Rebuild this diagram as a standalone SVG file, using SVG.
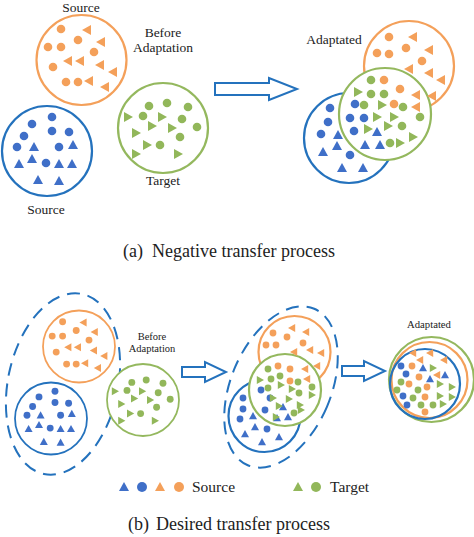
<svg xmlns="http://www.w3.org/2000/svg" xmlns:xlink="http://www.w3.org/1999/xlink" width="474" height="537" viewBox="0 0 474 537">
<style>
.t{font-family:"Liberation Serif","Times New Roman",serif;fill:#222}
.o{fill:#F4A05A}.b{fill:#3F6FC8}.g{fill:#92B75A}
.oc{fill:#fff;stroke:#F4A05A;stroke-width:2.2}
.bc{fill:#fff;stroke:#2472BD;stroke-width:2.2}
.gc{fill:#fff;stroke:#94B85E;stroke-width:2.2}
.nf{fill:none}
.dash{fill:none;stroke:#2472BD;stroke-width:2;stroke-dasharray:13 8}
.arr{fill:#fff;stroke:#2472BD;stroke-width:2;stroke-linejoin:miter}
</style>
<defs>
<circle id="d" r="4.3"/>
<polygon id="tl" points="-5,0 4,-5 4,5"/>
<polygon id="tu" points="0,-5 5,4 -5,4"/>
<polygon id="tr" points="5,0 -4,-5 -4,5"/>
<circle id="ds" r="3.4"/>
<polygon id="tls" points="-4,0 3.2,-4 3.2,4"/>
<polygon id="tus" points="0,-4 4,3.2 -4,3.2"/>
<polygon id="trs" points="4,0 -3.2,-4 -3.2,4"/>
<g id="clO">
<circle class="oc" r="45"/>
<g class="o">
<use href="#d" x="-20.5" y="-31"/><use href="#d" x="-33.5" y="-13"/><use href="#d" x="-20.5" y="-13"/><use href="#d" x="-3.5" y="-20"/><use href="#d" x="12.5" y="-8"/><use href="#d" x="-28.5" y="7"/><use href="#d" x="-15.5" y="22"/><use href="#d" x="-3.5" y="22"/>
<use href="#tl" x="5.5" y="-30"/><use href="#tl" x="19.5" y="-18"/><use href="#tl" x="-13.5" y="1"/><use href="#tl" x="-1.5" y="1"/><use href="#tl" x="18.5" y="5"/><use href="#tl" x="31.5" y="12"/><use href="#tl" x="7.5" y="21"/><use href="#tl" x="23.5" y="27"/>
</g>
</g>
<g id="clB">
<circle class="bc" r="45"/>
<g class="b">
<use href="#d" x="-15" y="-27"/><use href="#d" x="5" y="-34"/><use href="#d" x="-23" y="-15"/><use href="#d" x="5" y="-20"/><use href="#d" x="22" y="-19"/><use href="#d" x="-30" y="-4"/><use href="#d" x="12" y="-4"/><use href="#d" x="-1" y="12"/>
<use href="#tu" x="-13" y="-4"/><use href="#tu" x="26" y="-6"/><use href="#tu" x="-28" y="13"/><use href="#tu" x="-15" y="8"/><use href="#tu" x="12" y="13"/><use href="#tu" x="25" y="13"/><use href="#tu" x="-9" y="29"/><use href="#tu" x="12" y="30"/>
</g>
</g>
<g id="clG">
<circle class="gc" r="45"/>
<g class="g">
<use href="#d" x="-14" y="-22"/><use href="#d" x="4" y="-25"/><use href="#d" x="25" y="-21"/><use href="#d" x="-20" y="-12"/><use href="#d" x="19" y="-9"/><use href="#d" x="34" y="-1"/><use href="#d" x="17" y="9"/><use href="#d" x="-3" y="17"/>
<use href="#tr" x="-35" y="-11"/><use href="#tr" x="-1" y="-11"/><use href="#tr" x="-27" y="5"/><use href="#tr" x="-11" y="-2"/><use href="#tr" x="9" y="0"/><use href="#tr" x="-16" y="17"/><use href="#tr" x="-27" y="26"/><use href="#tr" x="15" y="26"/>
</g>
</g>
</defs>
<rect width="474" height="537" fill="#fff"/>

<!-- Panel (a) left -->
<g id="a-source-orange"><use href="#clO" transform="translate(81.5,60)"/></g>
<g id="a-source-blue"><use href="#clB" transform="translate(47,151)"/></g>
<g id="a-target"><use href="#clG" transform="translate(163,128)"/></g>
<text class="t" x="81" y="12" font-size="13.5" text-anchor="middle">Source</text>
<text class="t" x="163" y="37" font-size="13.5" text-anchor="middle">Before</text>
<text class="t" x="163" y="52" font-size="13.5" text-anchor="middle">Adaptation</text>
<text class="t" x="163" y="185" font-size="13.5" text-anchor="middle">Target</text>
<text class="t" x="46" y="214" font-size="13.5" text-anchor="middle">Source</text>

<!-- Panel (a) right -->
<g id="a-adapted">
<circle class="oc" cx="409" cy="66" r="45"/>
<circle class="bc" cx="349" cy="138" r="45"/>
<circle class="gc" cx="385" cy="114" r="46"/>
<g class="o">
<use href="#d" x="389" y="37"/><use href="#d" x="377" y="53"/><use href="#d" x="389" y="54"/><use href="#d" x="406" y="48"/><use href="#d" x="422" y="61"/><use href="#d" x="384" y="80"/><use href="#d" x="400" y="89"/><use href="#d" x="394" y="104"/>
<use href="#tl" x="413" y="37"/><use href="#tl" x="429" y="50"/><use href="#tl" x="409" y="69"/><use href="#tl" x="429" y="73"/><use href="#tl" x="441" y="80"/><use href="#tl" x="416" y="95"/><use href="#tl" x="432" y="96"/><use href="#tl" x="416" y="107"/>
</g>
<g class="b">
<use href="#d" x="330" y="108"/><use href="#d" x="355" y="104"/><use href="#d" x="350" y="118"/><use href="#d" x="364" y="118"/><use href="#d" x="328" y="122"/><use href="#d" x="321" y="134"/><use href="#d" x="354" y="131"/><use href="#d" x="350" y="155"/>
<use href="#tu" x="338" y="135"/><use href="#tu" x="377" y="132"/><use href="#tu" x="337" y="146"/><use href="#tu" x="365" y="145"/><use href="#tu" x="380" y="145"/><use href="#tu" x="323" y="152"/><use href="#tu" x="342" y="168"/><use href="#tu" x="363" y="168"/>
</g>
<g class="g">
<use href="#d" x="371" y="80"/><use href="#d" x="371" y="94"/><use href="#d" x="384" y="94"/><use href="#d" x="364" y="105"/><use href="#d" x="403" y="107"/><use href="#d" x="420" y="117"/><use href="#d" x="402" y="126"/><use href="#d" x="390" y="143"/>
<use href="#tr" x="358" y="92"/><use href="#tr" x="382" y="105"/><use href="#tr" x="377" y="117"/><use href="#tr" x="394" y="117"/><use href="#tr" x="388" y="126"/><use href="#tr" x="368" y="129"/><use href="#tr" x="413" y="137"/><use href="#tr" x="400" y="143"/>
</g>
</g>
<text class="t" x="334" y="44" font-size="13.5" text-anchor="middle">Adaptated</text>

<!-- Panel (b) left -->
<g id="b-sources">
<ellipse class="dash" cx="63" cy="384" rx="55" ry="92" transform="rotate(12 63 384)"/>
<use href="#clO" transform="translate(79,346.5) scale(0.8)"/>
<use href="#clB" transform="translate(51,418.5) scale(0.8)"/>
</g>
<g id="b-target"><use href="#clG" transform="translate(143,400) scale(0.8)"/></g>
<text class="t" x="152" y="340" font-size="10.5" text-anchor="middle">Before</text>
<text class="t" x="152" y="352" font-size="10.5" text-anchor="middle">Adaptation</text>

<!-- Panel (b) middle -->
<g id="b-middle">
<ellipse class="dash" cx="281" cy="387" rx="50" ry="85" transform="rotate(23 281 387)"/>
<circle class="oc" cx="294.5" cy="352" r="36"/>
<circle class="bc" cx="264.5" cy="416" r="36"/>
<circle class="gc" cx="285" cy="390" r="36"/>
<g class="o">
<use href="#ds" x="273" y="333"/><use href="#ds" x="266" y="345"/><use href="#ds" x="276" y="345"/><use href="#ds" x="287" y="337"/><use href="#ds" x="303" y="343"/><use href="#ds" x="278" y="366"/><use href="#ds" x="290" y="369"/><use href="#ds" x="290" y="381"/>
<use href="#tls" x="292" y="328"/><use href="#tls" x="306" y="332"/><use href="#tls" x="294" y="352"/><use href="#tls" x="310" y="350"/><use href="#tls" x="321" y="353"/><use href="#tls" x="305" y="369"/><use href="#tls" x="317" y="366"/><use href="#tls" x="307" y="379"/>
</g>
<g class="b">
<use href="#ds" x="261" y="390"/><use href="#ds" x="243" y="398"/><use href="#ds" x="270" y="398"/><use href="#ds" x="243" y="409"/><use href="#ds" x="265" y="410"/><use href="#ds" x="240" y="419"/><use href="#ds" x="267" y="429"/>
<use href="#tus" x="253" y="416"/><use href="#tus" x="283" y="407"/><use href="#tus" x="277" y="418"/><use href="#tus" x="288" y="417"/><use href="#tus" x="245" y="434"/><use href="#tus" x="255" y="427"/><use href="#tus" x="262" y="442"/><use href="#tus" x="279" y="437"/>
</g>
<g class="g">
<use href="#ds" x="268" y="369"/><use href="#ds" x="280" y="376"/><use href="#ds" x="271" y="379"/><use href="#ds" x="298" y="382"/><use href="#ds" x="268" y="388"/><use href="#ds" x="299" y="393"/><use href="#ds" x="312" y="387"/><use href="#ds" x="294" y="413"/>
<use href="#trs" x="260" y="380"/><use href="#trs" x="281" y="385"/><use href="#trs" x="292" y="389"/><use href="#trs" x="312" y="395"/><use href="#trs" x="273" y="398"/><use href="#trs" x="279" y="406"/><use href="#trs" x="289" y="399"/><use href="#trs" x="300" y="405"/><use href="#trs" x="276" y="417"/><use href="#trs" x="301" y="410"/>
</g>
</g>

<!-- Panel (b) right -->
<g id="b-adapted">
<circle class="gc nf" cx="431.5" cy="379.5" r="42.5"/>
<circle class="oc nf" cx="429.5" cy="380" r="38"/>
<circle class="bc nf" cx="425" cy="384" r="35"/>
<g class="o">
<use href="#tls" x="413" y="353"/><use href="#tls" x="430" y="353"/><use href="#tls" x="444" y="360"/><use href="#tls" x="420" y="360"/><use href="#tls" x="437" y="375"/>
<use href="#ds" x="412" y="366"/><use href="#ds" x="419" y="377"/><use href="#ds" x="409" y="384"/><use href="#ds" x="427" y="387"/><use href="#ds" x="425" y="397"/><use href="#ds" x="425" y="412"/>
</g>
<g class="b">
<use href="#ds" x="401" y="366"/><use href="#ds" x="406" y="374"/><use href="#ds" x="403" y="396"/><use href="#ds" x="407" y="405"/>
<use href="#tus" x="423" y="368"/><use href="#tus" x="430" y="379"/><use href="#tus" x="445" y="375"/>
</g>
<g class="g">
<use href="#ds" x="401" y="382"/><use href="#ds" x="397" y="390"/><use href="#ds" x="418" y="390"/><use href="#ds" x="413" y="398"/><use href="#ds" x="421" y="405"/><use href="#ds" x="433" y="405"/>
<use href="#trs" x="433" y="368"/><use href="#trs" x="440" y="384"/><use href="#trs" x="452" y="387"/><use href="#trs" x="440" y="396"/><use href="#trs" x="452" y="397"/><use href="#trs" x="443" y="404"/>
</g>
</g>
<text class="t" x="429" y="328" font-size="10.7" text-anchor="middle">Adaptated</text>

<!-- Connectors -->
<g id="connectors">
<polygon class="arr" points="215,83 269,83 269,78 297,89 269,100 269,95 215,95"/>
<polygon class="arr" points="182,367 205,367 205,362 226,372 205,382 205,377 182,377"/>
<polygon class="arr" points="342,366 364,366 364,361 385,371 364,381 364,376 342,376"/>
</g>

<!-- Legend -->
<g id="legend">
<polygon class="b" points="124,482 129,491 119,491"/>
<circle class="b" cx="142" cy="487" r="5"/>
<polygon class="o" points="160,482 165,491 155,491"/>
<circle class="o" cx="179" cy="487" r="5"/>
<text class="t" x="192" y="492" font-size="15.5">Source</text>
<polygon class="g" points="298,482 303,491 293,491"/>
<circle class="g" cx="316" cy="487" r="5"/>
<text class="t" x="330" y="492" font-size="15.5">Target</text>
</g>

<text class="t" x="123" y="257" font-size="18">(a)</text>
<text class="t" x="152" y="257" font-size="18">Negative transfer process</text>
<text class="t" x="128" y="530" font-size="18">(b)</text>
<text class="t" x="156" y="530" font-size="18">Desired transfer process</text>
</svg>
